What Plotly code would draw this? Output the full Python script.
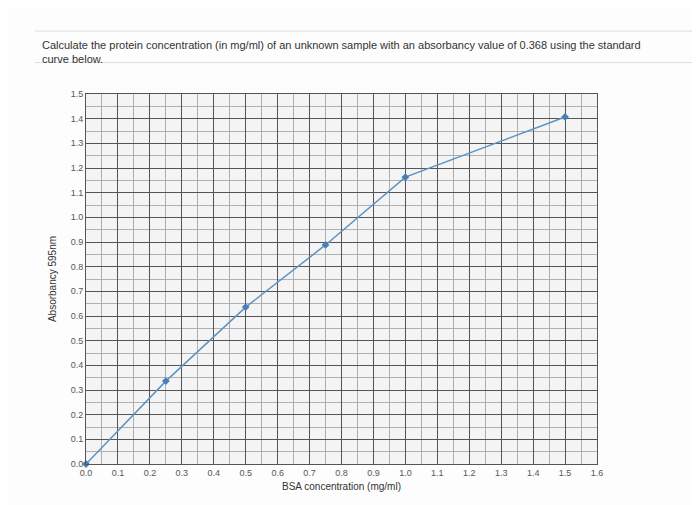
import plotly.graph_objects as go

# standard curve points
bsa_conc = [0.0, 0.25, 0.5, 0.75, 1.0, 1.5]
absorbance = [0.0, 0.336, 0.636, 0.888, 1.163, 1.407]

x_ticks = [round(i * 0.1, 1) for i in range(17)]
y_ticks = [round(i * 0.1, 1) for i in range(16)]

fig = go.Figure()
fig.add_trace(go.Scatter(
    x=bsa_conc, y=absorbance, mode='lines+markers',
    line=dict(color='#5b93c5', width=1.5),
    marker=dict(color='#4a7fb5', size=6, symbol='diamond'),
    cliponaxis=False,
))

grid_major = '#555555'
grid_minor = '#b0b0b0'
fig.update_xaxes(
    range=[0, 1.6], tickvals=x_ticks, ticktext=[f'{v:.1f}' for v in x_ticks],
    showgrid=True, gridcolor=grid_major, gridwidth=1.3,
    minor=dict(dtick=0.05, showgrid=True, gridcolor=grid_minor, gridwidth=1),
    zeroline=False, showline=True, linecolor=grid_major, mirror=True,
    tickfont=dict(size=9, color='#555555'), ticklen=0,
    title=dict(text='BSA concentration (mg/ml)', font=dict(size=10, color='#333333'), standoff=6),
)
fig.update_yaxes(
    range=[0, 1.5], tickvals=y_ticks, ticktext=[f'{v:.1f}' for v in y_ticks],
    showgrid=True, gridcolor=grid_major, gridwidth=1.3,
    minor=dict(dtick=0.05, showgrid=True, gridcolor=grid_minor, gridwidth=1),
    zeroline=False, showline=True, linecolor=grid_major, mirror=True,
    tickfont=dict(size=9, color='#555555'), ticklen=0,
    title=dict(text='Absorbancy 595nm', font=dict(size=10, color='#333333'), standoff=12),
)

fig.update_layout(
    width=700, height=505, showlegend=False,
    paper_bgcolor='#fdfdfd', plot_bgcolor='#f4f4f4',
    font=dict(family='Liberation Sans, Arial, sans-serif'),
    margin=dict(l=78, r=111, t=86, b=49),
    shapes=[
        dict(type='line', xref='paper', yref='paper', x0=-0.1, x1=1.2, y0=1.17, y1=1.17,
             line=dict(color='#dddddd', width=1)),
        dict(type='line', xref='paper', yref='paper', x0=-0.1, x1=1.2, y0=1.085, y1=1.085,
             line=dict(color='#dddddd', width=1)),
    ],
    annotations=[dict(
        text='Calculate the protein concentration (in mg/ml) of an unknown sample with an absorbancy value of 0.368 using the standard<br>curve below.',
        xref='paper', yref='paper', x=-0.09, y=1.155, xanchor='left', yanchor='top',
        align='left', showarrow=False, font=dict(size=11, color='#333333'),
    )],
)

fig.write_html("out.html")
